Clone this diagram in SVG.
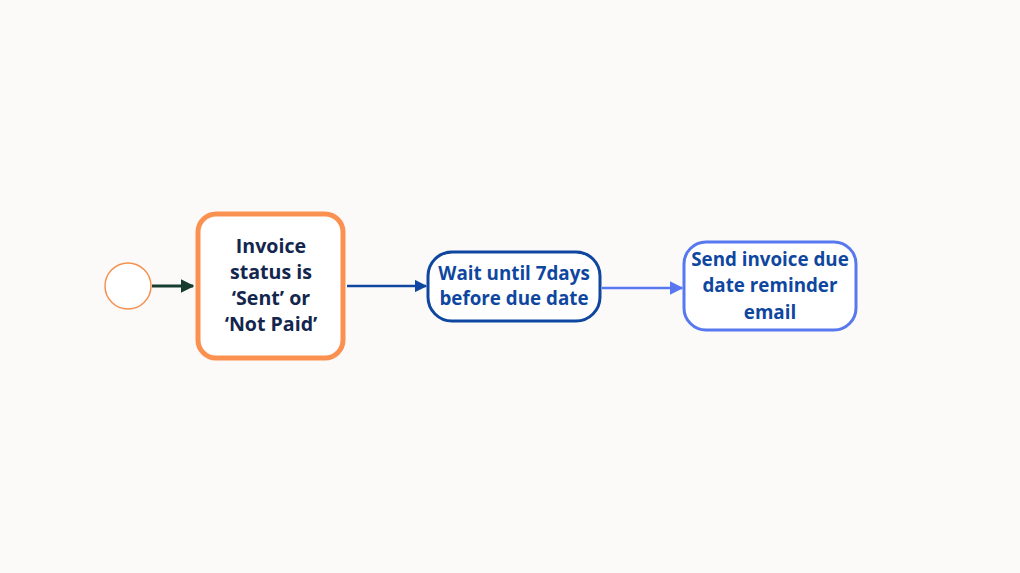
<svg xmlns="http://www.w3.org/2000/svg" width="1020" height="573" viewBox="0 0 1020 573">
<defs>
<style>
.t{font-family:"Open Sans","Liberation Sans",sans-serif;font-weight:700;text-anchor:middle}
.t1{font-size:19.6px;fill:#13264d}
.t2{font-size:18.8px;fill:#0f47a0}
</style>
<marker id="ag" viewBox="0 0 10 10" refX="9" refY="5" markerWidth="4.5" markerHeight="4.5" orient="auto" markerUnits="strokeWidth"><path d="M0,0L10,5L0,10z" fill="#173d30"/></marker>
<marker id="ab" viewBox="0 0 10 10" refX="9" refY="5" markerWidth="5" markerHeight="5" orient="auto" markerUnits="strokeWidth"><path d="M0,0L10,5L0,10z" fill="#0f47a0"/></marker>
<marker id="al" viewBox="0 0 10 10" refX="9" refY="5" markerWidth="5.5" markerHeight="5.5" orient="auto" markerUnits="strokeWidth"><path d="M0,0L10,5L0,10z" fill="#5878ef"/></marker>
</defs>
<rect width="1020" height="573" fill="#fcfaf8"/>
<g id="connectors" fill="none">
<line x1="152" y1="286" x2="193" y2="286" stroke="#173d30" stroke-width="3" marker-end="url(#ag)"/>
<line x1="347" y1="286" x2="426" y2="286" stroke="#0f47a0" stroke-width="2.5" marker-end="url(#ab)"/>
<line x1="602" y1="288" x2="682" y2="288" stroke="#5878ef" stroke-width="2.5" marker-end="url(#al)"/>
</g>
<g id="start">
<circle cx="128" cy="286" r="23" fill="#ffffff" stroke="#f6914f" stroke-width="1.5"/>
</g>
<g id="condition">
<rect x="198" y="214" width="145" height="144" rx="18" fill="#ffffff" stroke="#fb9150" stroke-width="5"/>
<text class="t t1" x="271" y="253">Invoice</text>
<text class="t t1" x="271" y="279">status is</text>
<text class="t t1" x="271" y="305">‘Sent’ or</text>
<text class="t t1" x="271" y="331">‘Not Paid’</text>
</g>
<g id="wait">
<rect x="428" y="252" width="172" height="69" rx="24" fill="#ffffff" stroke="#0f47a0" stroke-width="3"/>
<text class="t t2" x="514" y="280">Wait until 7days</text>
<text class="t t2" x="514" y="305">before due date</text>
</g>
<g id="email">
<rect x="684" y="242" width="172" height="88" rx="22" fill="#ffffff" stroke="#5878ef" stroke-width="3"/>
<text class="t t2" x="770" y="266">Send invoice due</text>
<text class="t t2" x="770" y="292">date reminder</text>
<text class="t t2" x="770" y="319">email</text>
</g>
</svg>
